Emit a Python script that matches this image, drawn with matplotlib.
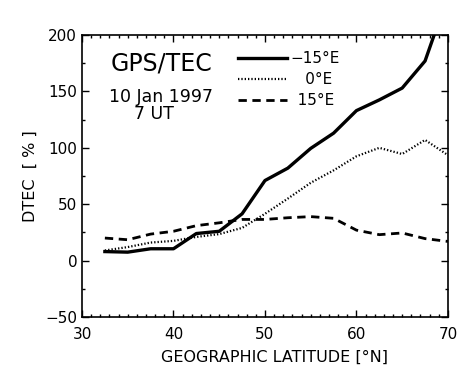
import numpy as np
import matplotlib
matplotlib.use("Agg")
import matplotlib.pyplot as plt
from matplotlib.ticker import MultipleLocator

# latitude grid (deg N)
lat = [32.5, 35, 37.5, 40, 42.5, 45, 47.5, 50, 52.5, 55, 57.5, 60, 62.5, 65, 67.5, 70]

# DTEC [%] for the three longitudes
dtec_m15 = [8, 7.5, 10.5, 10.5, 24, 26, 41.5, 71, 82, 99.5, 113, 133, 142.5, 153, 177, 235]
dtec_0 = [9, 12, 16, 17.5, 21, 23.5, 29, 41.5, 55, 69, 80, 92.5, 100, 94.5, 107, 93.5]
dtec_p15 = [20, 18.5, 23.5, 26, 31, 33.5, 36.5, 36.5, 38, 39, 37.5, 27, 23, 24.5, 19.5, 17]

labels = ['\u221215\u00b0E', '\u2002\u20020\u00b0E', '\u200215\u00b0E']

plt.rcParams['font.family'] = ['DejaVu Sans']

fig = plt.figure(figsize=(4.74, 3.81), dpi=100)
ax = fig.add_axes([0.173, 0.168, 0.772, 0.740])

ax.plot(lat, dtec_m15, color='black', lw=2.4, ls='-', label=labels[0])
ax.plot(lat, dtec_0, color='black', lw=1.6, ls=(0, (0.6, 0.9)), label=labels[1])
ax.plot(lat, dtec_p15, color='black', lw=2.0, ls=(0, (3, 2)), label=labels[2])

ax.set_xlim(30, 70)
ax.set_ylim(-50, 200)
ax.xaxis.set_major_locator(MultipleLocator(10))
ax.xaxis.set_minor_locator(MultipleLocator(1))
ax.yaxis.set_major_locator(MultipleLocator(50))
ax.yaxis.set_minor_locator(MultipleLocator(25))
ax.tick_params(which='both', direction='in', top=True, right=True, labelsize=11, width=1)
ax.tick_params(which='major', length=5)
ax.tick_params(which='minor', length=2.5)
ax.tick_params(axis='x', which='major', pad=7)
ax.tick_params(axis='y', which='major', pad=3.5)
ax.set_yticks([-50, 0, 50, 100, 150, 200])
ax.set_yticklabels(['\u221250', '0', '50', '100', '150', '200'])
for s in ax.spines.values():
    s.set_linewidth(1.2)

ax.set_xlabel('GEOGRAPHIC LATITUDE [\u00b0N]', fontsize=11.5)
ax.xaxis.set_label_coords(0.527, -0.115)
ax.set_ylabel('DTEC  [ % ]', fontsize=11.5, labelpad=5)

ax.text(0.216, 0.90, 'GPS/TEC', transform=ax.transAxes, fontsize=17, ha='center', va='center')
ax.text(0.216, 0.78, '10 Jan 1997', transform=ax.transAxes, fontsize=12.5, ha='center', va='center')
ax.text(0.197, 0.72, '7 UT', transform=ax.transAxes, fontsize=12.5, ha='center', va='center')

leg = ax.legend(loc='upper left', bbox_to_anchor=(0.41, 0.965), frameon=False, fontsize=11,
                handlelength=3.2, handletextpad=0.2, labelspacing=0.4, borderaxespad=0)

fig.savefig('out.png', dpi=100)
